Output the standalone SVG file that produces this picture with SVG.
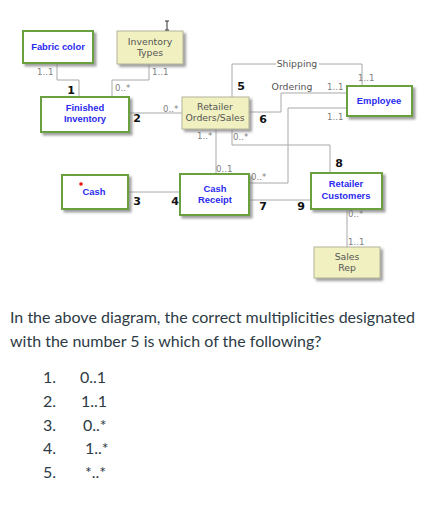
<svg xmlns="http://www.w3.org/2000/svg" width="436" height="519" viewBox="0 0 436 519">
<style>
.bg{fill:#ffffff}
.ent{fill:#ffffff;stroke:#6aa040;stroke-width:2}
.typ{fill:#f0f0c0;stroke:#b4b49a;stroke-width:1}
.en{font-family:"Liberation Sans",Arial,sans-serif;font-weight:bold;font-size:9.4px;fill:#2a2af0;text-anchor:middle}
.tn{font-family:"DejaVu Sans",Verdana,sans-serif;font-size:9.3px;fill:#555;text-anchor:middle}
.m{font-family:"DejaVu Sans",Verdana,sans-serif;font-size:8.6px;fill:#808080}
.num{font-family:"DejaVu Sans",Verdana,sans-serif;font-weight:bold;font-size:11px;fill:#111;text-anchor:middle}
.ln{fill:none;stroke:#a8a8a8;stroke-width:1}
.q{font-family:Lato,"Open Sans",sans-serif;font-size:16px;fill:#2d3b45}
</style>
<defs>
<filter id="sh" x="-20%" y="-20%" width="150%" height="160%">
<feDropShadow dx="2.5" dy="2.5" stdDeviation="1.2" flood-color="#777" flood-opacity="0.7"/>
</filter>
</defs>
<rect class="bg" x="0" y="0" width="436" height="519"/>

<g id="connectors">
<polyline class="ln" points="57,64 57,80 79,80 79,97"/>
<polyline class="ln" points="149,65 149,80 112,80 112,97"/>
<line class="ln" x1="129" y1="113" x2="182" y2="113"/>
<polyline class="ln" points="232,97 232,64 362,64 362,86"/>
<rect x="276" y="58" width="43" height="11" fill="#fff"/>
<text class="tn" x="297" y="67">Shipping</text>
<polyline class="ln" points="249,112 281,112 281,93 347,93"/>
<text class="tn" x="292" y="90">Ordering</text>
<polyline class="ln" points="347,108 288,108 288,183 249,183"/>
<polyline class="ln" points="232,129 232,145 330,145 330,173"/>
<line class="ln" x1="216" y1="129" x2="216" y2="174"/>
<line class="ln" x1="128" y1="192" x2="180" y2="192"/>
<line class="ln" x1="249" y1="200" x2="311" y2="200"/>
<line class="ln" x1="347" y1="209" x2="347" y2="247"/>

<text class="m" x="37" y="75">1..1</text>
<text class="m" x="152" y="75">1..1</text>
<text class="m" x="115" y="91">0..*</text>
<text class="m" x="163" y="112">0..*</text>
<text class="m" x="358" y="81">1..1</text>
<text class="m" x="327" y="90">1..1</text>
<text class="m" x="327" y="120">1..1</text>
<text class="m" x="197" y="139">1..*</text>
<text class="m" x="233" y="140">0..*</text>
<text class="m" x="216" y="172">0..1</text>
<text class="m" x="251" y="180">0..*</text>
<text class="m" x="348" y="217">0..*</text>
<text class="m" x="348" y="245">1..1</text>

<text class="num" x="71" y="94">1</text>
<text class="num" x="137" y="122">2</text>
<text class="num" x="241" y="90">5</text>
<text class="num" x="263" y="123">6</text>
<text class="num" x="339" y="167">8</text>
<text class="num" x="137" y="205">3</text>
<text class="num" x="175" y="205">4</text>
<text class="num" x="263" y="210">7</text>
<text class="num" x="301" y="210">9</text>
</g>

<g id="fabric-color">
<rect class="ent" x="23" y="31" width="70" height="32" filter="url(#sh)"/>
<text class="en" x="58" y="50">Fabric color</text>
</g>

<g id="inventory-types">
<rect class="typ" x="117" y="31" width="66" height="33" filter="url(#sh)"/>
<text class="tn" x="150" y="45">Inventory</text>
<text class="tn" x="150" y="56">Types</text>
</g>

<g id="finished-inventory">
<rect class="ent" x="41" y="97" width="88" height="35" filter="url(#sh)"/>
<text class="en" x="85" y="111">Finished</text>
<text class="en" x="85" y="122">Inventory</text>
</g>

<g id="retailer-orders">
<rect class="typ" x="182" y="97" width="67" height="32" filter="url(#sh)"/>
<text class="tn" x="215" y="110">Retailer</text>
<text class="tn" x="215" y="121">Orders/Sales</text>
</g>

<g id="employee">
<rect class="ent" x="347" y="86" width="65" height="30" filter="url(#sh)"/>
<text class="en" x="379" y="104">Employee</text>
</g>

<g id="cash">
<rect class="ent" x="62" y="175" width="66" height="34" filter="url(#sh)"/>
<circle cx="81" cy="184" r="1.8" fill="#ee1111"/>
<text class="en" x="94" y="195">Cash</text>
</g>

<g id="cash-receipt">
<rect class="ent" x="180" y="174" width="69" height="41" filter="url(#sh)"/>
<text class="en" x="215" y="192">Cash</text>
<text class="en" x="215" y="203">Receipt</text>
</g>

<g id="retailer-customers">
<rect class="ent" x="311" y="173" width="71" height="36" filter="url(#sh)"/>
<text class="en" x="346" y="187">Retailer</text>
<text class="en" x="346" y="199">Customers</text>
</g>

<g id="sales-rep">
<rect class="typ" x="314" y="247" width="66" height="31" filter="url(#sh)"/>
<text class="tn" x="347" y="260">Sales</text>
<text class="tn" x="347" y="271">Rep</text>
</g>

<path d="M165,21 H169 M167,21 V30 M165,30 H169" stroke="#333" stroke-width="1" fill="none"/>

<text class="q" x="10" y="323">In the above diagram, the correct multiplicities designated</text>
<text class="q" x="10" y="347">with the number 5 is which of the following?</text>

<text class="q" x="43" y="383">1.</text><text class="q" x="80" y="383">0..1</text>
<text class="q" x="43" y="407">2.</text><text class="q" x="81" y="407">1..1</text>
<text class="q" x="43" y="431">3.</text><text class="q" x="83" y="431">0..*</text>
<text class="q" x="43" y="454">4.</text><text class="q" x="85" y="454">1..*</text>
<text class="q" x="43" y="478">5.</text><text class="q" x="85" y="478">*..*</text>
</svg>
